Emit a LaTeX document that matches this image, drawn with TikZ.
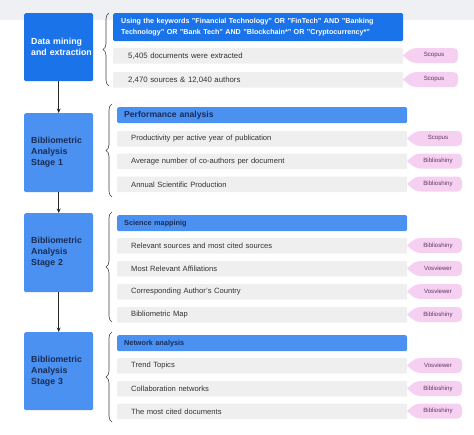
\documentclass[tikz,border=0pt]{standalone}
\usepackage{fontspec}
\setmainfont{Liberation Sans}
\usetikzlibrary{decorations.pathreplacing,arrows.meta}
\definecolor{dblue}{HTML}{1A73E8}
\definecolor{lblue}{HTML}{4A91F2}
\definecolor{navy}{HTML}{1B2C55}
\definecolor{rowgray}{HTML}{EFEFEF}
\definecolor{tagpink}{HTML}{F6D0F1}
\definecolor{tagtext}{HTML}{5E3760}
\definecolor{band}{HTML}{EEF0F3}
\definecolor{rowtext}{HTML}{333333}
\pgfdeclarelayer{background}
\pgfsetlayers{background,main}
% \tagmark{name}{left x}{top y}{text}
\newcommand{\tagmark}[4]{%
  \node[tagstyle] (#1) at (#2+31,#3+7.5) {#4};
  \begin{pgfonlayer}{background}
    \fill[tagpink, rounded corners=4.5pt] (#2,#3+7.5) -- (#2+8.5,#3) -- (#2+55,#3)
      -- (#2+55,#3+15) -- (#2+8.5,#3+15) -- (#2,#3+7.5);
  \end{pgfonlayer}}
\begin{document}
\begin{tikzpicture}[x=1pt,y=-1pt,
  stagebox/.style={rectangle, rounded corners=1.5pt, anchor=north west, minimum width=69pt,
    inner xsep=7pt, inner ysep=0pt, text width=55pt, align=left,
    font=\fontsize{8.8}{11}\selectfont\bfseries},
  hdr/.style={rectangle, rounded corners=1.5pt, anchor=north west, minimum width=290pt,
    minimum height=16pt, inner xsep=7pt, inner ysep=0pt, text width=276pt, align=left,
    fill=lblue, text=navy, font=\fontsize{7.3}{8.5}\selectfont\bfseries},
  rowbox/.style={rectangle, rounded corners=1pt, anchor=north west, minimum width=290pt,
    minimum height=15.5pt, inner xsep=14pt, inner ysep=0pt, text width=262pt, align=left,
    fill=rowgray, text=rowtext, font=\fontsize{7.6}{9}\selectfont},
  tagstyle/.style={inner sep=0pt, text=tagtext, font=\fontsize{6.1}{7}\selectfont},
  bracestyle/.style={draw=black!75, line width=0.6pt, decorate,
    decoration={brace, amplitude=6pt}},
  arr/.style={draw=black!85, line width=0.75pt, -{Stealth[length=4.5pt,width=3.8pt]}}
]
\useasboundingbox (0,0) rectangle (474,434);
\fill[band] (0,0) rectangle (474,20);

% left stage boxes
\node[stagebox, fill=dblue, text=white, minimum height=68pt] (b1) at (24,13) {Data mining\\\mbox{and extraction}};
\node[stagebox, fill=lblue, text=navy, minimum height=79pt] (b2) at (24,113) {Bibliometric\\Analysis\\Stage 1};
\node[stagebox, fill=lblue, text=navy, minimum height=79pt] (b3) at (24,213) {Bibliometric\\Analysis\\Stage 2};
\node[stagebox, fill=lblue, text=navy, minimum height=78pt] (b4) at (24,332) {Bibliometric\\Analysis\\Stage 3};
\draw[arr] (b1.south) -- (b2.north);
\draw[arr] (b2.south) -- (b3.north);
\draw[arr] (b3.south) -- (b4.north);

% group 1
\node[hdr, fill=dblue, text=white, minimum height=28pt, inner xsep=8pt, text width=274pt,
  font=\fontsize{7.15}{11}\selectfont\bfseries] (h1) at (113,13)
  {Using the keywords "Financial Technology" OR "FinTech" AND "Banking\\Technology" OR "Bank Tech" AND "Blockchain*" OR "Cryptocurrency*"};
\node[rowbox, font=\fontsize{7.8}{9}\selectfont, inner xsep=15pt, text width=260pt] (r11) at (113,48) {5,405 documents were extracted};
\node[rowbox, font=\fontsize{7.8}{9}\selectfont, inner xsep=15pt, text width=260pt] (r12) at (113,72) {2,470 sources \& 12,040 authors};
\tagmark{t11}{403}{48}{Scopus}
\tagmark{t12}{403}{72}{Scopus}
\coordinate (g1b) at (109,86);
\coordinate (g1t) at (109,13);
\draw[bracestyle] (g1b) -- (g1t);

% group 2
\node[hdr, font=\fontsize{8.6}{9}\selectfont\bfseries] (h2) at (117,107) {Performance analysis};
\node[rowbox] (r21) at (117,131) {Productivity per active year of publication};
\node[rowbox] (r22) at (117,153.5) {Average number of co-authors per document};
\node[rowbox] (r23) at (117,176.5) {Annual Scientific Production};
\tagmark{t21}{407}{131}{Scopus}
\tagmark{t22}{407}{153.5}{Biblioshiny}
\tagmark{t23}{407}{176.5}{Biblioshiny}
\coordinate (g2b) at (112,197);
\coordinate (g2t) at (112,104);
\draw[bracestyle] (g2b) -- (g2t);

% group 3
\node[hdr] (h3) at (117,215) {Science mappinig};
\node[rowbox] (r31) at (117,238) {Relevant sources and most cited sources};
\node[rowbox] (r32) at (117,261) {Most Relevant Affiliations};
\node[rowbox] (r33) at (117,284) {Corresponding Author's Country};
\node[rowbox] (r34) at (117,307) {Bibliometric Map};
\tagmark{t31}{407}{238}{Biblioshiny}
\tagmark{t32}{407}{261}{Vosviewer}
\tagmark{t33}{407}{284}{Vosviewer}
\tagmark{t34}{407}{307}{Biblioshiny}
\coordinate (g3b) at (112,322);
\coordinate (g3t) at (112,212);
\draw[bracestyle] (g3b) -- (g3t);

% group 4
\node[hdr] (h4) at (117,335) {Network analysis};
\node[rowbox] (r41) at (117,358) {Trend Topics};
\node[rowbox] (r42) at (117,381) {Collaboration networks};
\node[rowbox] (r43) at (117,403.5) {The most cited documents};
\tagmark{t41}{407}{358}{Vosviewer}
\tagmark{t42}{407}{381}{Biblioshiny}
\tagmark{t43}{407}{403.5}{Biblioshiny}
\coordinate (g4b) at (112,422);
\coordinate (g4t) at (112,332);
\draw[bracestyle] (g4b) -- (g4t);
\end{tikzpicture}
\end{document}
